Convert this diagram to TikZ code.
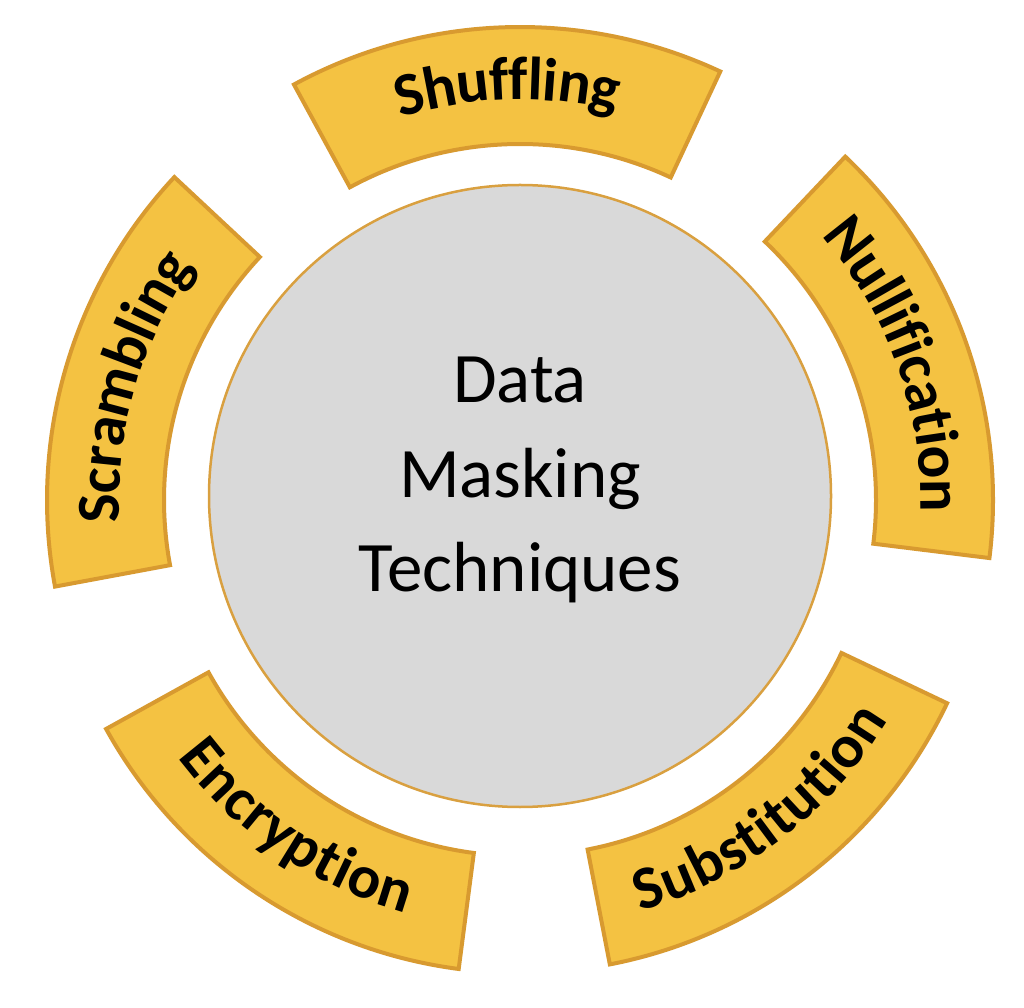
\documentclass[tikz,border=0pt]{standalone}
\usepackage{fontspec}
\setmainfont{Carlito}
\usetikzlibrary{decorations.text}
\definecolor{segfill}{HTML}{F4C242}
\definecolor{segline}{HTML}{D89A30}
\definecolor{corefill}{HTML}{D9D9D9}
\definecolor{coreline}{HTML}{D9A040}
\newcommand\segfont{\fontsize{61}{70}\selectfont\bfseries}
\newcommand\corefont{\fontsize{71}{85}\selectfont}
\begin{document}
\begin{tikzpicture}[x=1pt,y=1pt,
  segment/.style={fill=segfill, draw=segline, line width=4pt, line join=miter},
  core/.style={circle, fill=corefill, draw=coreline, line width=2.5pt, inner sep=0pt, minimum size=622pt},
  coretext/.style={font=\corefont, text=black, inner sep=0pt, anchor=base},
  segtext/.style={decorate, decoration={text along path, text align=center, raise=-14pt, text={|\segfont|#1}}}
]
\useasboundingbox (0,0) rectangle (1024,1007);
\fill[white] (0,0) rectangle (1024,1007);
\coordinate (O) at (520,507);
\begin{scope}[shift={(O)}]
  % Shuffling 91.75
  \draw[segment] (118.55:473) arc[start angle=118.55, end angle=64.95, radius=473] -- (64.95:356) arc[start angle=64.95, end angle=118.55, radius=356] -- cycle;
  % Nullification 19.75
  \draw[segment] (46.55:473) arc[start angle=46.55, end angle=-7.05, radius=473] -- (-7.05:356) arc[start angle=-7.05, end angle=46.55, radius=356] -- cycle;
  % Scrambling 163.75
  \draw[segment] (190.55:473) arc[start angle=190.55, end angle=136.95, radius=473] -- (136.95:356) arc[start angle=136.95, end angle=190.55, radius=356] -- cycle;
  % Encryption 235.75
  \draw[segment] (262.55:473) arc[start angle=262.55, end angle=208.95, radius=473] -- (208.95:356) arc[start angle=208.95, end angle=262.55, radius=356] -- cycle;
  % Substitution 307.75
  \draw[segment] (334.55:473) arc[start angle=334.55, end angle=280.95, radius=473] -- (280.95:356) arc[start angle=280.95, end angle=334.55, radius=356] -- cycle;

  \path[segtext=Shuffling] (118.55:414.5) arc[start angle=118.55, end angle=64.95, radius=414.5];
  \path[segtext=Nullification] (46.55:414.5) arc[start angle=46.55, end angle=-7.05, radius=414.5];
  \path[segtext=Scrambling] (190.55:414.5) arc[start angle=190.55, end angle=136.95, radius=414.5];
  \path[segtext=Encryption] (208.95:414.5) arc[start angle=208.95, end angle=262.55, radius=414.5];
  \path[segtext=Substitution] (280.95:414.5) arc[start angle=280.95, end angle=334.55, radius=414.5];
\end{scope}
\node[core] (core) at (520,511) {};
\node[coretext] (t1) at (520,604) {Data};
\node[coretext] (t2) at (520,509) {Masking};
\node[coretext] (t3) at (520,415) {Techniques};
\end{tikzpicture}
\end{document}
